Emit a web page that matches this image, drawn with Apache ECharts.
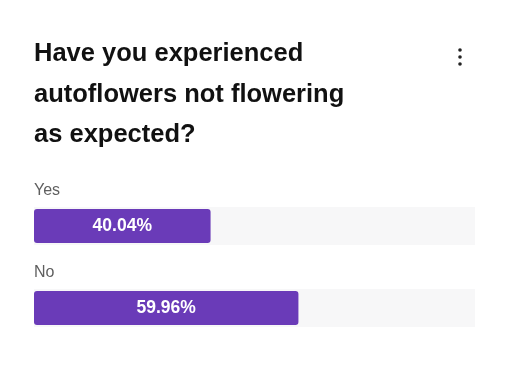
<!DOCTYPE html>
<html>
<head>
<meta charset="utf-8">
<script src="https://cdn.jsdelivr.net/npm/echarts@6/dist/echarts.min.js"></script>
<style>
html,body{margin:0;padding:0;background:#fff;}
#chart{width:510px;height:367px;}
</style>
</head>
<body>
<div id="chart"></div>
<script>
const titleText = "Have you experienced\nautoflowers not flowering\nas expected?";
const categories = ["Yes", "No"];
const percentages = [40.04, 59.96];
const trackValues = [100, 100];

const chart = echarts.init(document.getElementById('chart'), null, {renderer: 'canvas'});
const font = 'Liberation Sans, Arial, Helvetica, sans-serif';
const gridCommon = {left: 34, right: 35, top: 185, bottom: 18, containLabel: false};
const option = {
  animation: false,
  backgroundColor: '#ffffff',
  title: {
    text: titleText,
    left: 29,
    top: 29,
    textStyle: {fontFamily: font, fontSize: 25.5, fontWeight: 'bold', color: '#111111', lineHeight: 40.5}
  },
  grid: [Object.assign({}, gridCommon), Object.assign({}, gridCommon)],
  xAxis: [
    {type: 'value', gridIndex: 0, min: 0, max: 100, show: false},
    {type: 'value', gridIndex: 1, min: 0, max: 100, show: false}
  ],
  yAxis: [
    {type: 'category', gridIndex: 0, data: categories, inverse: true, show: false},
    {type: 'category', gridIndex: 1, data: categories, inverse: true, show: false}
  ],
  series: [
    {
      type: 'bar', xAxisIndex: 0, yAxisIndex: 0,
      data: trackValues, barWidth: 38,
      itemStyle: {color: '#f7f7f8'},
      label: {
        show: true, position: [0, -8], verticalAlign: 'bottom', align: 'left',
        formatter: p => categories[p.dataIndex],
        fontFamily: font, fontSize: 16, color: '#5f5f5f'
      },
      silent: true
    },
    {
      type: 'bar', xAxisIndex: 1, yAxisIndex: 1,
      data: percentages, barWidth: 34,
      itemStyle: {color: '#6a3bb8', borderRadius: 3},
      label: {
        show: true, position: 'inside',
        formatter: p => p.value.toFixed(2) + '%',
        fontFamily: font, fontSize: 17.5, fontWeight: 'bold', color: '#ffffff'
      }
    }
  ],
  graphic: [
    {type: 'circle', shape: {cx: 460, cy: 50, r: 1.8}, style: {fill: '#222'}},
    {type: 'circle', shape: {cx: 460, cy: 57, r: 1.8}, style: {fill: '#222'}},
    {type: 'circle', shape: {cx: 460, cy: 64, r: 1.8}, style: {fill: '#222'}}
  ]
};
chart.setOption(option);
</script>
</body>
</html>
